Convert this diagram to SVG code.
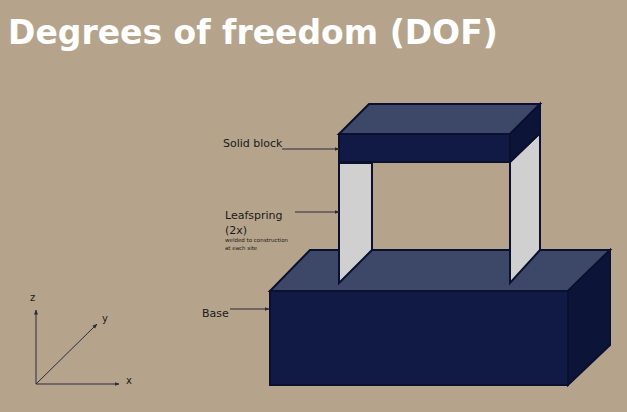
<svg xmlns="http://www.w3.org/2000/svg" width="627" height="412" viewBox="0 0 627 412">
<defs>
<marker id="ah" viewBox="0 0 10 10" refX="9" refY="5" markerWidth="5" markerHeight="5" orient="auto"><path d="M0,1 L10,5 L0,9 z" fill="#2a2a3a"/></marker>
<style>
.t{font-family:"DejaVu Sans",sans-serif;fill:#1a1a1a}
.dk{fill:#101a45;stroke:#0a1030;stroke-width:2}
.md{fill:#3d4868;stroke:#0a1030;stroke-width:2}
.dd{fill:#0c1438;stroke:#0a1030;stroke-width:2}
.lf{fill:#d0d0d0;stroke:#0a1030;stroke-width:2}
.ln{stroke:#2a2a3a;stroke-width:1;fill:none;marker-end:url(#ah)}
</style>
</defs>
<rect width="627" height="412" fill="#b5a48b"/>
<text x="8" y="44" font-family="DejaVu Sans,sans-serif" font-weight="bold" font-size="33" fill="#fff">Degrees of freedom (DOF)</text>
<g id="base">
<polygon class="md" points="270,291 310,250 610,250 568,291"/>
<polygon class="dd" points="568,291 610,250 610,345 568,385"/>
<rect class="dk" x="270" y="291" width="298" height="94"/>
</g>
<g id="leafspring-right"><polygon class="lf" points="510,162 540,133 540,250 510,283"/></g>
<g id="leafspring-left"><polygon class="lf" points="339,163 372,163 372,250 339,283"/></g>
<g id="solid-block">
<polygon class="md" points="339,134 369,104 540,104 510,134"/>
<polygon class="dd" points="510,134 540,104 540,133 510,162"/>
<rect class="dk" x="339" y="134" width="171" height="28"/>
</g>
<g id="labels">
<text class="t" x="223" y="147" font-size="11">Solid block</text>
<text class="t" x="225" y="219" font-size="11">Leafspring</text>
<text class="t" x="225" y="234" font-size="11">(2x)</text>
<text class="t" x="225" y="242" font-size="5.5">welded to construction</text>
<text class="t" x="225" y="250" font-size="5.5">at each site</text>
<text class="t" x="202" y="317" font-size="11">Base</text>
<text class="t" x="30" y="301" font-size="10">z</text>
<text class="t" x="102" y="322" font-size="10">y</text>
<text class="t" x="126" y="384" font-size="10">x</text>
</g>
<g id="connectors">
<line class="ln" x1="282" y1="149" x2="339" y2="149"/>
<line class="ln" x1="295" y1="212" x2="339" y2="212"/>
<line class="ln" x1="230" y1="309" x2="269" y2="309"/>
<line class="ln" x1="36" y1="384" x2="36" y2="310"/>
<line class="ln" x1="36" y1="384" x2="97" y2="324"/>
<line class="ln" x1="36" y1="384" x2="119" y2="384"/>
</g>
</svg>
